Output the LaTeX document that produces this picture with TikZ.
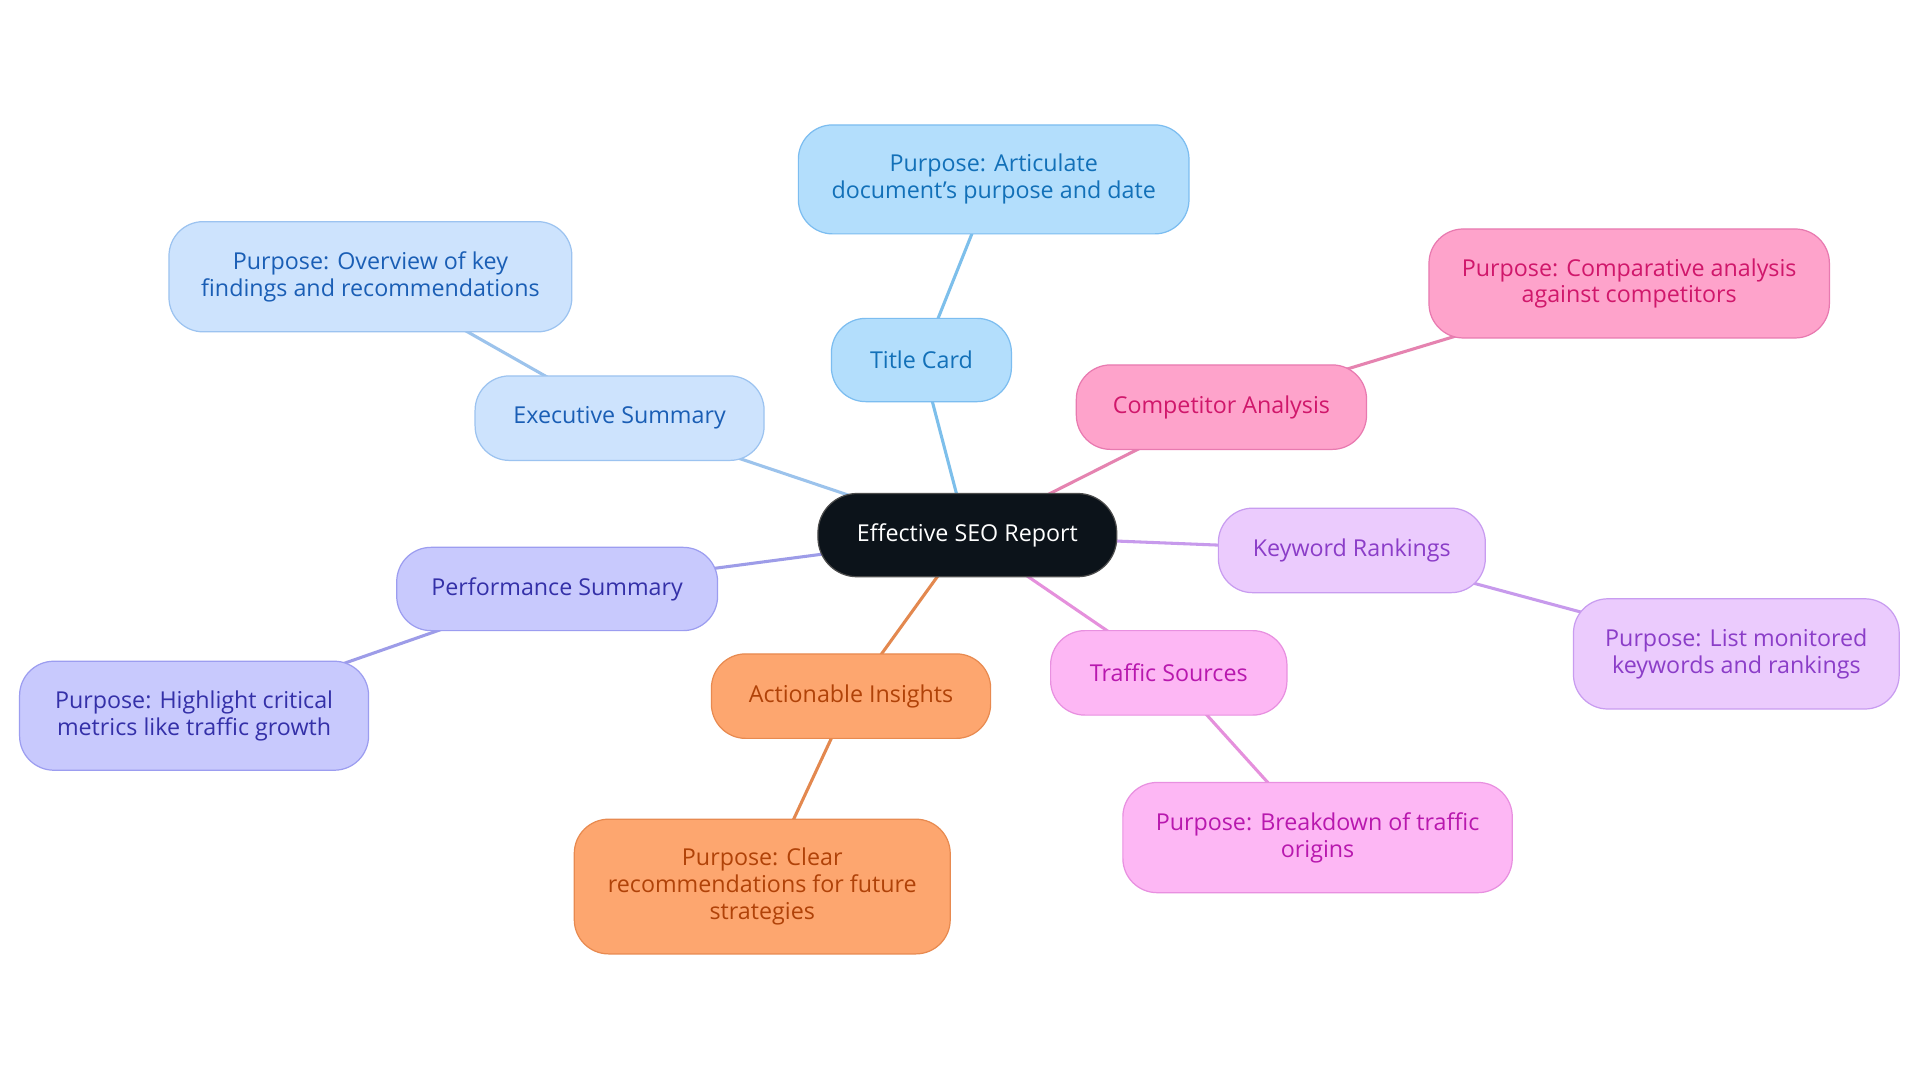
\documentclass[tikz,border=0pt]{standalone}
\usepackage{fontspec}
\setmainfont{Open Sans}
\usetikzlibrary{backgrounds}
\pgfdeclarelayer{paper}
\pgfsetlayers{paper,background,main}
\definecolor{tcF}{HTML}{B3DEFC}\definecolor{tcD}{HTML}{7CBDF0}\definecolor{tcT}{HTML}{1270B8}\definecolor{tcE}{HTML}{7DBFEB}
\definecolor{esF}{HTML}{CDE3FD}\definecolor{esD}{HTML}{9CC3F0}\definecolor{esT}{HTML}{1A5EB5}\definecolor{esE}{HTML}{9CC3EC}
\definecolor{caF}{HTML}{FEA3CB}\definecolor{caD}{HTML}{E87AB0}\definecolor{caT}{HTML}{D0176B}\definecolor{caE}{HTML}{E583B0}
\definecolor{krF}{HTML}{EBCBFD}\definecolor{krD}{HTML}{C89CF0}\definecolor{krT}{HTML}{8B3DC8}\definecolor{krE}{HTML}{C79AEC}
\definecolor{psF}{HTML}{C8C9FD}\definecolor{psD}{HTML}{9C9DF0}\definecolor{psT}{HTML}{3430A8}\definecolor{psE}{HTML}{9D9CE8}
\definecolor{aiF}{HTML}{FDA66F}\definecolor{aiD}{HTML}{E88A50}\definecolor{aiT}{HTML}{B04208}\definecolor{aiE}{HTML}{E3884F}
\definecolor{tsF}{HTML}{FDB7F4}\definecolor{tsD}{HTML}{E890E0}\definecolor{tsT}{HTML}{B818AE}\definecolor{tsE}{HTML}{E590DC}
\definecolor{ctF}{HTML}{0C131A}
\begin{document}
\begin{tikzpicture}[x=1pt,y=-1pt,
  box/.style={rounded corners=28pt, line width=1pt, inner sep=0pt, align=center,
    font=\fontsize{19}{22}\selectfont},
  sz/.style 2 args={minimum width=#1pt, minimum height=#2pt},
  tc/.style={box, fill=tcF, draw=tcD, text=tcT},
  es/.style={box, fill=esF, draw=esD, text=esT},
  ca/.style={box, fill=caF, draw=caD, text=caT},
  kr/.style={box, fill=krF, draw=krD, text=krT},
  ps/.style={box, fill=psF, draw=psD, text=psT},
  ai/.style={box, fill=aiF, draw=aiD, text=aiT},
  ts/.style={box, fill=tsF, draw=tsD, text=tsT},
  link/.style={line width=2.5pt}]
\begin{pgfonlayer}{paper}
\fill[white] (0,0) rectangle (1568,884.4);
\end{pgfonlayer}
\useasboundingbox (0,0) rectangle (1568,884.4);
% nodes
\node[box, fill=ctF, draw=black!70, text=white, sz={244}{68}, rounded corners=32pt] (c) at (790,437) {Effective SEO Report};
\node[tc, sz={147}{68}] (tc) at (752.5,294) {Title Card};
\node[tc, sz={319}{89}] (tcp) at (811.5,146.5) {Purpose: Articulate\\document's purpose and date};
\node[es, sz={236}{69}] (es) at (506,341.5) {Executive Summary};
\node[es, sz={329}{90}] (esp) at (302.5,226) {Purpose: Overview of key\\findings and recommendations};
\node[ca, sz={237}{69}] (ca) at (997.5,332.5) {Competitor Analysis};
\node[ca, sz={327}{89}] (cap) at (1330.5,231.5) {Purpose: Comparative analysis\\against competitors};
\node[kr, sz={218}{69}] (kr) at (1104,449.5) {Keyword Rankings};
\node[kr, sz={266}{90}] (krp) at (1418,534) {Purpose: List monitored\\keywords and rankings};
\node[ps, sz={262}{68}] (ps) at (455,481) {Performance Summary};
\node[ps, sz={285}{89}] (psp) at (158.5,584.5) {Purpose: Highlight critical\\metrics like traffic growth};
\node[ai, sz={228}{69}] (ai) at (695,568.5) {Actionable Insights};
\node[ai, sz={307}{110}] (aip) at (622.5,724) {Purpose: Clear\\recommendations for future\\strategies};
\node[ts, sz={193}{69}] (ts) at (954.5,549.5) {Traffic Sources};
\node[ts, sz={318}{90}] (tsp) at (1076,684) {Purpose: Breakdown of traffic\\origins};
% edges behind
\begin{pgfonlayer}{background}
\draw[link, tcE] (c.center) -- (tc.center) -- (tcp.center);
\draw[link, esE] (c.center) -- (es.center) -- (esp.center);
\draw[link, caE] (c.center) -- (ca.center) -- (cap.center);
\draw[link, krE] (c.center) -- (kr.center) -- (krp.center);
\draw[link, psE] (c.center) -- (ps.center) -- (psp.center);
\draw[link, aiE] (c.center) -- (ai.center) -- (aip.center);
\draw[link, tsE] (c.center) -- (ts.center) -- (tsp.center);
\end{pgfonlayer}
\end{tikzpicture}
\end{document}
